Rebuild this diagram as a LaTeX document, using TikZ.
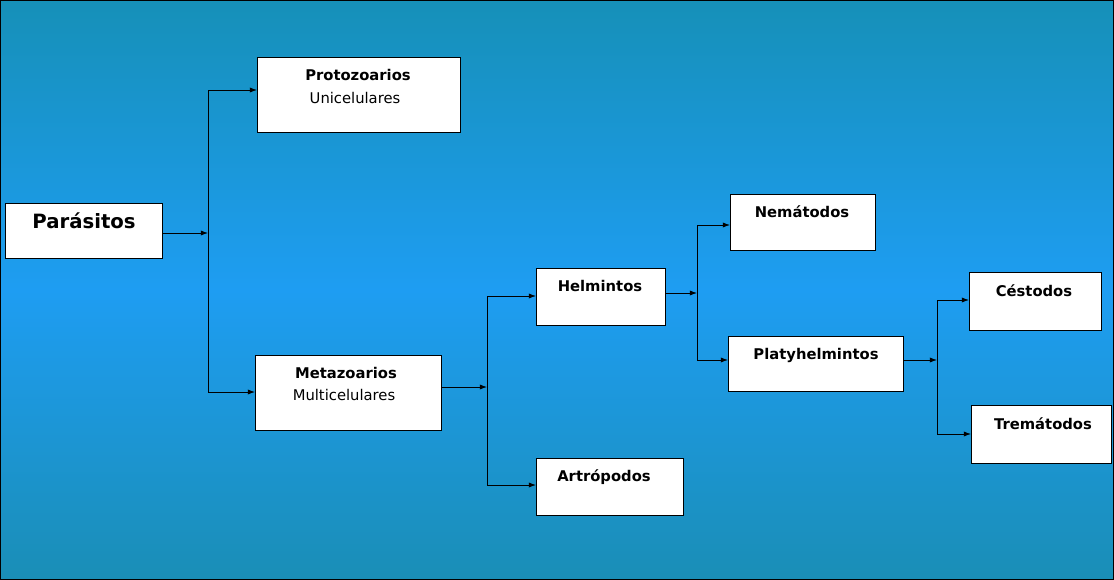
\documentclass[tikz,border=0pt]{standalone}
\usepackage{fontspec}
\setmainfont{DejaVu Sans}
\usetikzlibrary{arrows.meta}
\definecolor{bgtop}{HTML}{1690B8}
\definecolor{bgmid}{HTML}{1E9DF2}
\definecolor{bgbot}{HTML}{1A8EB6}
\begin{document}
\begin{tikzpicture}[x=0.025cm,y=-0.025cm,
  box/.style={draw=black,fill=white,line width=0.6pt,minimum width=#1,inner sep=0pt},
  ttl/.style={font=\bfseries\fontsize{10.5}{12}\selectfont},
  sub/.style={font=\fontsize{10.5}{12}\selectfont},
  con/.style={line width=0.6pt},
  arr/.style={con,-{Latex[length=1.8mm,width=1.3mm]}}]
\useasboundingbox (0,0) rectangle (1114,580);
\shade[top color=bgtop,bottom color=bgbot,middle color=bgmid,draw=black,line width=1.2pt] (0,0) rectangle (1114,580);
% boxes
\draw[fill=white,line width=0.6pt] (5,203) rectangle (162,258);
\node[anchor=north,font=\bfseries\fontsize{14}{16}\selectfont] (tpar) at (84,208) {Parásitos};
\coordinate (par) at (162,233);
\draw[fill=white,line width=0.6pt] (257,57) rectangle (460,132);
\node[anchor=north,ttl] (tpro) at (358,64) {Protozoarios};
\node[anchor=north,sub] at (355,87) {Unicelulares};
\draw[fill=white,line width=0.6pt] (255,355) rectangle (441,430);
\node[anchor=north,ttl] at (346,362) {Metazoarios};
\node[anchor=north,sub] at (344,384) {Multicelulares};
\draw[fill=white,line width=0.6pt] (536,268) rectangle (665,325);
\node[anchor=north,ttl] at (600,275) {Helmintos};
\draw[fill=white,line width=0.6pt] (536,458) rectangle (683,515);
\node[anchor=north,ttl] at (604,465) {Artrópodos};
\draw[fill=white,line width=0.6pt] (730,194) rectangle (875,250);
\node[anchor=north,ttl] at (802,201) {Nemátodos};
\draw[fill=white,line width=0.6pt] (728,336) rectangle (903,391);
\node[anchor=north,ttl] at (816,343) {Platyhelmintos};
\draw[fill=white,line width=0.6pt] (969,272) rectangle (1101,330);
\node[anchor=north,ttl] at (1034,280) {Céstodos};
\draw[fill=white,line width=0.6pt] (971,405) rectangle (1111,463);
\node[anchor=north,ttl] at (1043,413) {Tremátodos};
% junctions
\coordinate (j1) at (208,233); \coordinate (j1a) at (208,90); \coordinate (j1b) at (208,392);
\coordinate (pro) at (257,90); \coordinate (met) at (255,392); \coordinate (meto) at (441,387);
\coordinate (j2) at (487,387); \coordinate (j2a) at (487,296); \coordinate (j2b) at (487,485);
\coordinate (hel) at (536,296); \coordinate (art) at (536,485); \coordinate (helo) at (665,293);
\coordinate (j3) at (697,293); \coordinate (j3a) at (697,225); \coordinate (j3b) at (697,360);
\coordinate (nem) at (730,225); \coordinate (pla) at (728,360); \coordinate (plao) at (903,360);
\coordinate (j4) at (937,360); \coordinate (j4a) at (937,300); \coordinate (j4b) at (937,434);
\coordinate (ces) at (969,300); \coordinate (tre) at (971,434);
\draw[arr] (par) -- (j1);
\draw[con] (j1a) -- (j1b);
\draw[arr] (j1a) -- (pro); \draw[arr] (j1b) -- (met);
\draw[arr] (meto) -- (j2);
\draw[con] (j2a) -- (j2b);
\draw[arr] (j2a) -- (hel); \draw[arr] (j2b) -- (art);
\draw[arr] (helo) -- (j3);
\draw[con] (j3a) -- (j3b);
\draw[arr] (j3a) -- (nem); \draw[arr] (j3b) -- (pla);
\draw[arr] (plao) -- (j4);
\draw[con] (j4a) -- (j4b);
\draw[arr] (j4a) -- (ces); \draw[arr] (j4b) -- (tre);
\end{tikzpicture}
\end{document}
